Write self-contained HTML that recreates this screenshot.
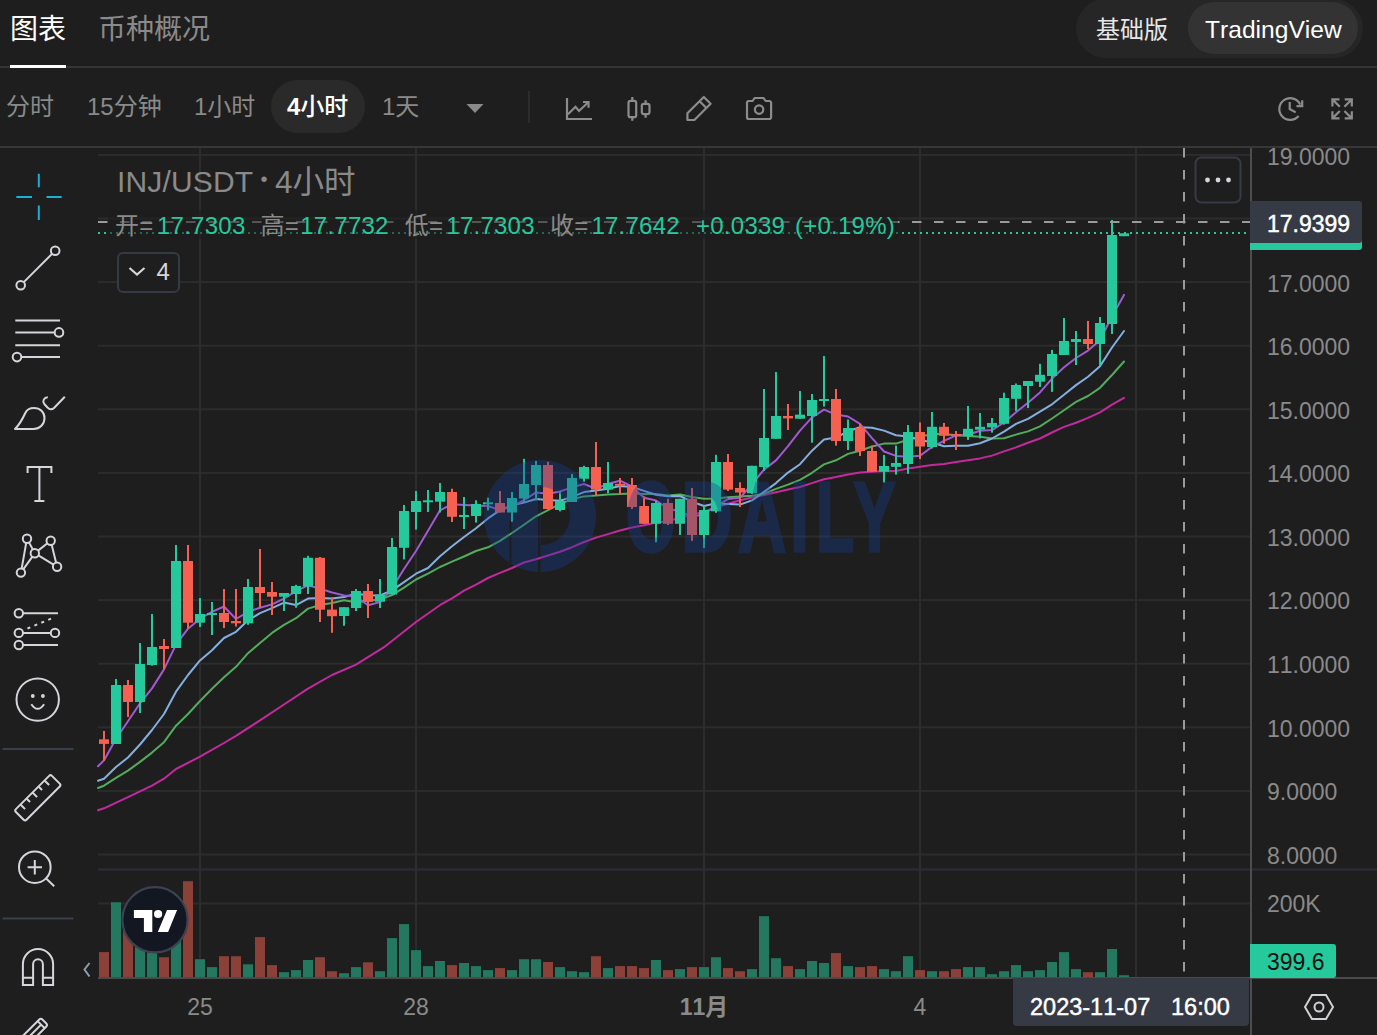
<!DOCTYPE html>
<html lang="zh-CN">
<head>
<meta charset="utf-8">
<title>INJ/USDT 图表</title>
<style>
*{box-sizing:border-box;margin:0;padding:0}
html,body{width:1377px;height:1035px;overflow:hidden;background:#1e1e1e}
body{position:relative;font-kerning:none;font-family:"Liberation Sans","Noto Sans CJK SC",sans-serif;color:#8a8a8a}
.abs{position:absolute;white-space:nowrap}
.tab{top:10px;font-size:28px;line-height:40px}
.tb{top:88px;font-size:24px;line-height:38px;color:#8a8a8a}
.pl{left:1267px;font-size:23px;line-height:28px;color:#8a8a8a;letter-spacing:0px}
.tl{top:993px;font-size:23px;line-height:28px;color:#8a8a8a;transform:translateX(-50%)}
#chart{position:absolute;left:0;top:0}
.md{-webkit-text-stroke:.45px #fff}
.g{color:#26c99c}.lg.g{color:#26c99c}.lg{top:209.5px;font-size:24px;line-height:32px;color:#8a8a8a;letter-spacing:.25px}
</style>
</head>
<body>
<!-- header tabs -->
<div class="abs tab" style="left:10px;color:#fff">图表</div>
<div class="abs tab" style="left:98px;color:#8a8a8a">币种概况</div>
<div class="abs" style="left:0;top:66px;width:1377px;height:2px;background:#353535"></div>
<div class="abs" style="left:10px;top:65px;width:56px;height:3px;background:#fff"></div>
<div class="abs" style="left:1076px;top:-1px;width:287px;height:59px;border-radius:30px;background:#262626"></div>
<div class="abs" style="left:1188px;top:2px;width:170px;height:52px;border-radius:26px;background:#333"></div>
<div class="abs" style="left:1096px;top:12px;font-size:24px;line-height:36px;color:#e6e6e6">基础版</div>
<div class="abs" style="left:1205px;top:11.5px;font-size:24.6px;line-height:36px;color:#fff">TradingView</div>

<!-- toolbar -->
<div class="abs tb" style="left:6px">分时</div>
<div class="abs tb" style="left:87px">15分钟</div>
<div class="abs tb" style="left:194px">1小时</div>
<div class="abs" style="left:271px;top:80px;width:94px;height:53px;border-radius:27px;background:#2a2a2a"></div>
<div class="abs tb" style="left:287px;color:#fff;font-weight:bold"><span style="font-weight:bold">4</span><span style="font-weight:500">小时</span></div>
<div class="abs tb" style="left:382px">1天</div>
<div class="abs" style="left:0;top:146px;width:1377px;height:2px;background:#373737"></div>

<!-- chart svg -->
<svg id="chart" width="1377" height="1035" viewBox="0 0 1377 1035">
<rect x="98" y="853.5" width="1152" height="2" fill="#2c2c2c"/>
<rect x="98" y="789.9" width="1152" height="2" fill="#2c2c2c"/>
<rect x="98" y="726.3" width="1152" height="2" fill="#2c2c2c"/>
<rect x="98" y="662.7" width="1152" height="2" fill="#2c2c2c"/>
<rect x="98" y="599.1" width="1152" height="2" fill="#2c2c2c"/>
<rect x="98" y="535.5" width="1152" height="2" fill="#2c2c2c"/>
<rect x="98" y="471.9" width="1152" height="2" fill="#2c2c2c"/>
<rect x="98" y="408.3" width="1152" height="2" fill="#2c2c2c"/>
<rect x="98" y="344.7" width="1152" height="2" fill="#2c2c2c"/>
<rect x="98" y="281.1" width="1152" height="2" fill="#2c2c2c"/>
<rect x="98" y="217.5" width="1152" height="2" fill="#2c2c2c"/>
<rect x="98" y="153.9" width="1152" height="2" fill="#2c2c2c"/>
<rect x="199" y="148" width="2" height="830" fill="#2c2c2c"/>
<rect x="415" y="148" width="2" height="830" fill="#2c2c2c"/>
<rect x="703" y="148" width="2" height="830" fill="#2c2c2c"/>
<rect x="919" y="148" width="2" height="830" fill="#2c2c2c"/>
<rect x="1135" y="148" width="2" height="830" fill="#2c2c2c"/>
<rect x="98" y="902.5" width="1152" height="2" fill="#2c2c2c"/>
<rect x="98" y="868.5" width="1279" height="2" fill="#2a2e39"/>
<rect x="99" y="952.1" width="10" height="24.9" fill="#8b4038"/>
<rect x="111" y="902.3" width="10" height="74.7" fill="#23785f"/>
<rect x="123" y="922.0" width="10" height="55.0" fill="#8b4038"/>
<rect x="135" y="927.0" width="10" height="50.0" fill="#23785f"/>
<rect x="147" y="932.0" width="10" height="45.0" fill="#23785f"/>
<rect x="159" y="957.2" width="10" height="19.8" fill="#8b4038"/>
<rect x="171" y="907.0" width="10" height="70.0" fill="#23785f"/>
<rect x="183" y="881.2" width="10" height="95.8" fill="#8b4038"/>
<rect x="195" y="959.2" width="10" height="17.8" fill="#23785f"/>
<rect x="207" y="967.1" width="10" height="9.9" fill="#23785f"/>
<rect x="219" y="956.2" width="10" height="20.8" fill="#8b4038"/>
<rect x="231" y="956.2" width="10" height="20.8" fill="#8b4038"/>
<rect x="243" y="964.3" width="10" height="12.7" fill="#23785f"/>
<rect x="255" y="937.1" width="10" height="39.9" fill="#8b4038"/>
<rect x="267" y="965.1" width="10" height="11.9" fill="#8b4038"/>
<rect x="279" y="972.2" width="10" height="4.8" fill="#23785f"/>
<rect x="291" y="970.1" width="10" height="6.9" fill="#23785f"/>
<rect x="303" y="960.0" width="10" height="17.0" fill="#23785f"/>
<rect x="315" y="957.2" width="10" height="19.8" fill="#8b4038"/>
<rect x="327" y="971.2" width="10" height="5.8" fill="#8b4038"/>
<rect x="339" y="973.2" width="10" height="3.8" fill="#23785f"/>
<rect x="351" y="967.1" width="10" height="9.9" fill="#23785f"/>
<rect x="363" y="962.3" width="10" height="14.7" fill="#8b4038"/>
<rect x="375" y="971.2" width="10" height="5.8" fill="#23785f"/>
<rect x="387" y="938.1" width="10" height="38.9" fill="#23785f"/>
<rect x="399" y="924.1" width="10" height="52.9" fill="#23785f"/>
<rect x="411" y="950.1" width="10" height="26.9" fill="#23785f"/>
<rect x="423" y="966.1" width="10" height="10.9" fill="#23785f"/>
<rect x="435" y="961.0" width="10" height="16.0" fill="#23785f"/>
<rect x="447" y="965.1" width="10" height="11.9" fill="#8b4038"/>
<rect x="459" y="963.0" width="10" height="14.0" fill="#23785f"/>
<rect x="471" y="966.1" width="10" height="10.9" fill="#23785f"/>
<rect x="483" y="970.1" width="10" height="6.9" fill="#23785f"/>
<rect x="495" y="968.1" width="10" height="8.9" fill="#8b4038"/>
<rect x="507" y="970.1" width="10" height="6.9" fill="#23785f"/>
<rect x="519" y="959.2" width="10" height="17.8" fill="#23785f"/>
<rect x="531" y="959.2" width="10" height="17.8" fill="#23785f"/>
<rect x="543" y="962.0" width="10" height="15.0" fill="#8b4038"/>
<rect x="555" y="967.1" width="10" height="9.9" fill="#23785f"/>
<rect x="567" y="971.2" width="10" height="5.8" fill="#23785f"/>
<rect x="579" y="972.2" width="10" height="4.8" fill="#23785f"/>
<rect x="591" y="956.2" width="10" height="20.8" fill="#8b4038"/>
<rect x="603" y="968.1" width="10" height="8.9" fill="#23785f"/>
<rect x="615" y="966.1" width="10" height="10.9" fill="#8b4038"/>
<rect x="627" y="966.1" width="10" height="10.9" fill="#8b4038"/>
<rect x="639" y="968.1" width="10" height="8.9" fill="#8b4038"/>
<rect x="651" y="960.0" width="10" height="17.0" fill="#23785f"/>
<rect x="663" y="970.1" width="10" height="6.9" fill="#8b4038"/>
<rect x="675" y="969.1" width="10" height="7.9" fill="#23785f"/>
<rect x="687" y="967.1" width="10" height="9.9" fill="#8b4038"/>
<rect x="699" y="967.1" width="10" height="9.9" fill="#23785f"/>
<rect x="711" y="957.2" width="10" height="19.8" fill="#23785f"/>
<rect x="723" y="968.1" width="10" height="8.9" fill="#8b4038"/>
<rect x="735" y="971.2" width="10" height="5.8" fill="#8b4038"/>
<rect x="747" y="969.1" width="10" height="7.9" fill="#23785f"/>
<rect x="759" y="916.2" width="10" height="60.8" fill="#23785f"/>
<rect x="771" y="958.2" width="10" height="18.8" fill="#23785f"/>
<rect x="783" y="966.1" width="10" height="10.9" fill="#8b4038"/>
<rect x="795" y="969.1" width="10" height="7.9" fill="#23785f"/>
<rect x="807" y="961.0" width="10" height="16.0" fill="#23785f"/>
<rect x="819" y="963.0" width="10" height="14.0" fill="#23785f"/>
<rect x="831" y="953.1" width="10" height="23.9" fill="#8b4038"/>
<rect x="843" y="966.1" width="10" height="10.9" fill="#23785f"/>
<rect x="855" y="967.1" width="10" height="9.9" fill="#8b4038"/>
<rect x="867" y="966.1" width="10" height="10.9" fill="#8b4038"/>
<rect x="879" y="969.1" width="10" height="7.9" fill="#23785f"/>
<rect x="891" y="971.2" width="10" height="5.8" fill="#23785f"/>
<rect x="903" y="956.2" width="10" height="20.8" fill="#23785f"/>
<rect x="915" y="970.1" width="10" height="6.9" fill="#8b4038"/>
<rect x="927" y="971.2" width="10" height="5.8" fill="#23785f"/>
<rect x="939" y="971.2" width="10" height="5.8" fill="#8b4038"/>
<rect x="951" y="969.1" width="10" height="7.9" fill="#8b4038"/>
<rect x="963" y="967.1" width="10" height="9.9" fill="#23785f"/>
<rect x="975" y="967.1" width="10" height="9.9" fill="#23785f"/>
<rect x="987" y="974.2" width="10" height="2.8" fill="#23785f"/>
<rect x="999" y="971.2" width="10" height="5.8" fill="#23785f"/>
<rect x="1011" y="965.1" width="10" height="11.9" fill="#23785f"/>
<rect x="1023" y="971.2" width="10" height="5.8" fill="#23785f"/>
<rect x="1035" y="970.1" width="10" height="6.9" fill="#23785f"/>
<rect x="1047" y="962.0" width="10" height="15.0" fill="#23785f"/>
<rect x="1059" y="952.1" width="10" height="24.9" fill="#23785f"/>
<rect x="1071" y="969.1" width="10" height="7.9" fill="#23785f"/>
<rect x="1083" y="972.2" width="10" height="4.8" fill="#8b4038"/>
<rect x="1095" y="972.2" width="10" height="4.8" fill="#23785f"/>
<rect x="1107" y="949.0" width="10" height="28.0" fill="#23785f"/>
<rect x="1119" y="975.2" width="10" height="1.8" fill="#23785f"/>
<polyline points="98.0,810.3 104.0,808.3 128.0,797.2 152.0,785.7 164.0,778.7 176.0,769.0 200.0,756.7 224.0,743.0 236.0,735.8 260.0,720.4 284.0,704.5 308.0,688.6 332.0,675.0 356.0,664.6 384.0,647.2 416.0,622.0 442.0,603.8 452.0,598.3 464.0,590.7 476.0,584.6 488.0,578.0 500.0,572.9 512.0,568.0 524.0,562.5 536.0,559.3 548.0,555.5 560.0,551.7 572.0,547.2 584.0,542.0 596.0,537.6 608.0,534.1 620.0,530.5 632.0,527.5 644.0,525.2 656.0,522.5 668.0,521.3 680.0,517.6 692.0,514.9 704.0,511.7 716.0,507.4 728.0,503.7 740.0,500.3 752.0,497.6 764.0,495.1 776.0,492.3 788.0,489.6 800.0,487.0 812.0,483.1 824.0,479.2 836.0,477.1 848.0,474.6 860.0,472.6 872.0,471.7 884.0,471.1 896.0,471.0 908.0,468.5 920.0,466.7 932.0,465.0 944.0,463.9 956.0,462.1 968.0,460.3 980.0,458.4 992.0,455.6 1004.0,451.4 1016.0,447.4 1028.0,442.7 1040.0,438.5 1052.0,432.5 1064.0,426.9 1076.0,422.8 1088.0,417.9 1100.0,412.3 1112.0,404.6 1124.0,397.8" fill="none" stroke="#c42a9e" stroke-width="2" stroke-linejoin="round" stroke-linecap="round"/>
<polyline points="98.0,788.0 104.0,785.7 116.0,777.8 128.0,770.6 140.0,761.9 152.0,752.6 164.0,742.2 176.0,725.7 188.0,714.0 200.0,701.0 212.0,688.8 224.0,677.2 236.0,666.8 248.0,653.2 260.0,643.0 272.0,632.9 284.0,624.8 296.0,618.2 308.0,608.6 320.0,605.0 332.0,603.0 344.0,600.2 356.0,602.2 368.0,600.8 380.0,599.5 392.0,595.1 404.0,587.7 416.0,579.5 428.0,573.7 440.0,567.0 452.0,561.7 464.0,556.5 476.0,551.0 488.0,547.3 500.0,540.8 512.0,533.0 524.0,524.7 536.0,516.3 548.0,510.2 560.0,503.9 572.0,499.3 584.0,496.4 596.0,495.6 608.0,494.5 620.0,494.1 632.0,493.4 644.0,494.0 656.0,493.9 668.0,495.4 680.0,494.5 692.0,496.9 704.0,498.7 716.0,498.5 728.0,497.2 740.0,496.6 752.0,495.8 764.0,493.8 776.0,488.9 788.0,484.6 800.0,479.9 812.0,472.8 824.0,464.4 836.0,460.3 848.0,453.9 860.0,450.7 872.0,446.5 884.0,443.6 896.0,443.6 908.0,439.8 920.0,436.7 932.0,434.1 944.0,434.0 956.0,435.3 968.0,436.0 980.0,436.8 992.0,438.4 1004.0,438.3 1016.0,434.6 1028.0,431.4 1040.0,426.3 1052.0,418.5 1064.0,410.2 1076.0,401.9 1088.0,396.0 1100.0,387.8 1112.0,375.0 1124.0,361.5" fill="none" stroke="#52ac5c" stroke-width="2" stroke-linejoin="round" stroke-linecap="round"/>
<polyline points="98.0,780.7 104.0,778.7 116.0,767.0 128.0,757.5 140.0,744.5 152.0,730.0 164.0,714.0 176.0,691.7 188.0,675.0 200.0,660.4 212.0,650.2 224.0,638.0 236.0,631.8 248.0,620.3 260.0,613.2 272.0,608.2 284.0,602.6 296.0,605.1 308.0,598.6 320.0,598.1 332.0,598.5 344.0,597.0 356.0,593.8 368.0,595.2 380.0,595.4 392.0,590.4 404.0,582.2 416.0,573.7 428.0,568.0 440.0,556.2 452.0,546.2 464.0,537.0 476.0,528.3 488.0,518.4 500.0,510.2 512.0,505.3 524.0,502.6 536.0,499.0 548.0,499.9 560.0,500.8 572.0,496.9 584.0,492.1 596.0,490.6 608.0,488.7 620.0,486.0 632.0,486.9 644.0,490.9 656.0,494.7 668.0,496.2 680.0,496.0 692.0,501.7 704.0,506.0 716.0,503.2 728.0,503.9 740.0,504.6 752.0,500.4 764.0,491.9 776.0,483.1 788.0,472.6 800.0,464.2 812.0,450.7 824.0,439.6 836.0,437.5 848.0,431.3 860.0,427.2 872.0,427.8 884.0,430.6 896.0,435.3 908.0,436.6 920.0,439.8 932.0,442.5 944.0,446.2 956.0,445.7 968.0,445.8 980.0,443.3 992.0,438.5 1004.0,431.7 1016.0,423.9 1028.0,418.8 1040.0,411.6 1052.0,404.3 1064.0,394.8 1076.0,385.1 1088.0,376.7 1100.0,366.3 1112.0,347.5 1124.0,331.0" fill="none" stroke="#85aee1" stroke-width="2" stroke-linejoin="round" stroke-linecap="round"/>
<polyline points="98.0,766.2 104.0,760.4 116.0,738.7 128.0,721.3 140.0,703.3 152.0,688.4 164.0,669.4 176.0,644.6 188.0,628.7 200.0,618.7 212.0,611.9 224.0,606.5 236.0,619.0 248.0,611.9 260.0,607.7 272.0,604.4 284.0,598.6 296.0,591.1 308.0,585.3 320.0,588.6 332.0,592.5 344.0,595.4 356.0,596.4 368.0,605.2 380.0,602.1 392.0,588.3 404.0,569.0 416.0,551.0 428.0,530.8 440.0,510.3 452.0,504.2 464.0,505.0 476.0,505.6 488.0,506.0 500.0,510.1 512.0,506.4 524.0,500.2 536.0,492.4 548.0,493.7 560.0,491.4 572.0,487.4 584.0,484.0 596.0,488.9 608.0,483.7 620.0,480.7 632.0,486.5 644.0,497.8 656.0,500.5 668.0,508.7 680.0,511.3 692.0,516.9 704.0,514.1 716.0,505.9 728.0,499.1 740.0,497.8 752.0,484.0 764.0,469.6 776.0,460.4 788.0,446.1 800.0,430.6 812.0,417.4 824.0,409.6 836.0,414.6 848.0,416.5 860.0,423.8 872.0,438.1 884.0,451.5 896.0,455.9 908.0,456.7 920.0,455.8 932.0,446.9 944.0,440.8 956.0,435.4 968.0,434.8 980.0,430.8 992.0,430.1 1004.0,422.5 1016.0,412.3 1028.0,402.8 1040.0,392.4 1052.0,378.6 1064.0,367.2 1076.0,358.0 1088.0,350.6 1100.0,340.2 1112.0,316.4 1124.0,294.9" fill="none" stroke="#a05ad2" stroke-width="2" stroke-linejoin="round" stroke-linecap="round"/>
<rect x="103" y="730.9" width="2" height="30.1" fill="#f66050"/>
<rect x="99" y="739.3" width="10" height="4.6" fill="#f66050"/>
<rect x="115" y="679.0" width="2" height="65.0" fill="#26c99c"/>
<rect x="111" y="685.0" width="10" height="59.0" fill="#26c99c"/>
<rect x="127" y="680.0" width="2" height="37.0" fill="#f66050"/>
<rect x="123" y="685.0" width="10" height="17.0" fill="#f66050"/>
<rect x="139" y="643.0" width="2" height="70.0" fill="#26c99c"/>
<rect x="135" y="664.0" width="10" height="38.0" fill="#26c99c"/>
<rect x="151" y="614.0" width="2" height="51.7" fill="#26c99c"/>
<rect x="147" y="647.0" width="10" height="18.0" fill="#26c99c"/>
<rect x="163" y="639.0" width="2" height="30.0" fill="#f66050"/>
<rect x="159" y="646.0" width="10" height="3.0" fill="#f66050"/>
<rect x="175" y="545.0" width="2" height="103.0" fill="#26c99c"/>
<rect x="171" y="561.0" width="10" height="87.0" fill="#26c99c"/>
<rect x="187" y="545.0" width="2" height="83.5" fill="#f66050"/>
<rect x="183" y="561.0" width="10" height="61.7" fill="#f66050"/>
<rect x="199" y="598.0" width="2" height="29.0" fill="#26c99c"/>
<rect x="195" y="614.0" width="10" height="8.7" fill="#26c99c"/>
<rect x="211" y="602.0" width="2" height="33.0" fill="#26c99c"/>
<rect x="207" y="613.0" width="10" height="2.0" fill="#26c99c"/>
<rect x="223" y="589.0" width="2" height="39.0" fill="#f66050"/>
<rect x="219" y="613.0" width="10" height="9.0" fill="#f66050"/>
<rect x="235" y="589.0" width="2" height="37.5" fill="#f66050"/>
<rect x="231" y="621.0" width="10" height="2.3" fill="#f66050"/>
<rect x="247" y="579.0" width="2" height="45.8" fill="#26c99c"/>
<rect x="243" y="587.0" width="10" height="36.3" fill="#26c99c"/>
<rect x="259" y="549.0" width="2" height="58.7" fill="#f66050"/>
<rect x="255" y="587.0" width="10" height="6.0" fill="#f66050"/>
<rect x="271" y="582.0" width="2" height="33.0" fill="#f66050"/>
<rect x="267" y="592.0" width="10" height="4.7" fill="#f66050"/>
<rect x="283" y="593.0" width="2" height="18.0" fill="#26c99c"/>
<rect x="279" y="593.0" width="10" height="3.7" fill="#26c99c"/>
<rect x="295" y="584.8" width="2" height="22.9" fill="#26c99c"/>
<rect x="291" y="586.0" width="10" height="8.0" fill="#26c99c"/>
<rect x="307" y="555.8" width="2" height="38.2" fill="#26c99c"/>
<rect x="303" y="557.8" width="10" height="28.7" fill="#26c99c"/>
<rect x="319" y="557.0" width="2" height="65.0" fill="#f66050"/>
<rect x="315" y="557.8" width="10" height="51.9" fill="#f66050"/>
<rect x="331" y="597.4" width="2" height="35.4" fill="#f66050"/>
<rect x="327" y="609.6" width="10" height="6.6" fill="#f66050"/>
<rect x="343" y="607.2" width="2" height="18.6" fill="#26c99c"/>
<rect x="339" y="607.2" width="10" height="8.8" fill="#26c99c"/>
<rect x="355" y="589.0" width="2" height="22.0" fill="#26c99c"/>
<rect x="351" y="591.0" width="10" height="17.0" fill="#26c99c"/>
<rect x="367" y="584.0" width="2" height="34.0" fill="#f66050"/>
<rect x="363" y="591.0" width="10" height="10.7" fill="#f66050"/>
<rect x="379" y="579.0" width="2" height="29.0" fill="#26c99c"/>
<rect x="375" y="594.5" width="10" height="7.2" fill="#26c99c"/>
<rect x="391" y="538.0" width="2" height="56.5" fill="#26c99c"/>
<rect x="387" y="547.0" width="10" height="47.5" fill="#26c99c"/>
<rect x="403" y="505.0" width="2" height="54.4" fill="#26c99c"/>
<rect x="399" y="511.0" width="10" height="36.8" fill="#26c99c"/>
<rect x="415" y="491.0" width="2" height="38.6" fill="#26c99c"/>
<rect x="411" y="501.0" width="10" height="11.0" fill="#26c99c"/>
<rect x="427" y="490.0" width="2" height="22.0" fill="#26c99c"/>
<rect x="423" y="500.3" width="10" height="2.0" fill="#26c99c"/>
<rect x="439" y="483.0" width="2" height="29.5" fill="#26c99c"/>
<rect x="435" y="492.0" width="10" height="9.7" fill="#26c99c"/>
<rect x="451" y="488.7" width="2" height="33.3" fill="#f66050"/>
<rect x="447" y="492.0" width="10" height="24.8" fill="#f66050"/>
<rect x="463" y="497.0" width="2" height="32.0" fill="#26c99c"/>
<rect x="459" y="515.0" width="10" height="2.0" fill="#26c99c"/>
<rect x="475" y="500.3" width="2" height="22.3" fill="#26c99c"/>
<rect x="471" y="504.0" width="10" height="12.0" fill="#26c99c"/>
<rect x="487" y="497.7" width="2" height="12.7" fill="#26c99c"/>
<rect x="483" y="502.3" width="10" height="2.0" fill="#26c99c"/>
<rect x="499" y="491.0" width="2" height="21.5" fill="#f66050"/>
<rect x="495" y="503.0" width="10" height="9.5" fill="#f66050"/>
<rect x="511" y="492.0" width="2" height="29.7" fill="#26c99c"/>
<rect x="507" y="498.0" width="10" height="14.5" fill="#26c99c"/>
<rect x="523" y="458.8" width="2" height="43.5" fill="#26c99c"/>
<rect x="519" y="484.0" width="10" height="14.5" fill="#26c99c"/>
<rect x="535" y="460.9" width="2" height="39.4" fill="#26c99c"/>
<rect x="531" y="465.0" width="10" height="20.0" fill="#26c99c"/>
<rect x="547" y="461.7" width="2" height="47.9" fill="#f66050"/>
<rect x="543" y="465.0" width="10" height="44.0" fill="#f66050"/>
<rect x="559" y="491.0" width="2" height="20.3" fill="#26c99c"/>
<rect x="555" y="501.0" width="10" height="9.0" fill="#26c99c"/>
<rect x="571" y="474.0" width="2" height="28.0" fill="#26c99c"/>
<rect x="567" y="478.0" width="10" height="24.0" fill="#26c99c"/>
<rect x="583" y="465.8" width="2" height="15.9" fill="#26c99c"/>
<rect x="579" y="467.0" width="10" height="11.8" fill="#26c99c"/>
<rect x="595" y="442.0" width="2" height="53.4" fill="#f66050"/>
<rect x="591" y="467.0" width="10" height="22.6" fill="#f66050"/>
<rect x="607" y="462.0" width="2" height="31.3" fill="#26c99c"/>
<rect x="603" y="483.0" width="10" height="6.6" fill="#26c99c"/>
<rect x="619" y="478.0" width="2" height="16.8" fill="#f66050"/>
<rect x="615" y="483.8" width="10" height="2.0" fill="#f66050"/>
<rect x="631" y="478.0" width="2" height="31.0" fill="#f66050"/>
<rect x="627" y="485.0" width="10" height="22.0" fill="#f66050"/>
<rect x="643" y="496.0" width="2" height="27.8" fill="#f66050"/>
<rect x="639" y="506.0" width="10" height="17.8" fill="#f66050"/>
<rect x="655" y="501.0" width="2" height="41.3" fill="#26c99c"/>
<rect x="651" y="503.0" width="10" height="20.8" fill="#26c99c"/>
<rect x="667" y="498.8" width="2" height="26.2" fill="#f66050"/>
<rect x="663" y="503.0" width="10" height="20.8" fill="#f66050"/>
<rect x="679" y="498.8" width="2" height="36.2" fill="#26c99c"/>
<rect x="675" y="498.8" width="10" height="25.0" fill="#26c99c"/>
<rect x="691" y="488.0" width="2" height="52.9" fill="#f66050"/>
<rect x="687" y="498.8" width="10" height="36.2" fill="#f66050"/>
<rect x="703" y="505.5" width="2" height="42.5" fill="#26c99c"/>
<rect x="699" y="510.0" width="10" height="25.0" fill="#26c99c"/>
<rect x="715" y="454.8" width="2" height="58.0" fill="#26c99c"/>
<rect x="711" y="462.0" width="10" height="49.3" fill="#26c99c"/>
<rect x="727" y="454.0" width="2" height="37.0" fill="#f66050"/>
<rect x="723" y="462.0" width="10" height="27.6" fill="#f66050"/>
<rect x="739" y="482.3" width="2" height="24.7" fill="#f66050"/>
<rect x="735" y="488.0" width="10" height="4.5" fill="#f66050"/>
<rect x="751" y="465.8" width="2" height="28.2" fill="#26c99c"/>
<rect x="747" y="465.8" width="10" height="27.5" fill="#26c99c"/>
<rect x="763" y="389.0" width="2" height="81.7" fill="#26c99c"/>
<rect x="759" y="438.0" width="10" height="29.0" fill="#26c99c"/>
<rect x="775" y="372.0" width="2" height="66.8" fill="#26c99c"/>
<rect x="771" y="416.0" width="10" height="22.8" fill="#26c99c"/>
<rect x="787" y="404.0" width="2" height="26.0" fill="#f66050"/>
<rect x="783" y="416.0" width="10" height="2.4" fill="#f66050"/>
<rect x="799" y="391.0" width="2" height="27.7" fill="#26c99c"/>
<rect x="795" y="414.6" width="10" height="4.1" fill="#26c99c"/>
<rect x="811" y="394.0" width="2" height="48.7" fill="#26c99c"/>
<rect x="807" y="400.0" width="10" height="16.0" fill="#26c99c"/>
<rect x="823" y="356.0" width="2" height="50.5" fill="#26c99c"/>
<rect x="819" y="399.0" width="10" height="2.0" fill="#26c99c"/>
<rect x="835" y="389.0" width="2" height="56.6" fill="#f66050"/>
<rect x="831" y="399.0" width="10" height="42.0" fill="#f66050"/>
<rect x="847" y="419.5" width="2" height="30.5" fill="#26c99c"/>
<rect x="843" y="428.0" width="10" height="13.0" fill="#26c99c"/>
<rect x="859" y="424.0" width="2" height="32.0" fill="#f66050"/>
<rect x="855" y="428.0" width="10" height="23.0" fill="#f66050"/>
<rect x="871" y="445.6" width="2" height="26.1" fill="#f66050"/>
<rect x="867" y="451.0" width="10" height="20.7" fill="#f66050"/>
<rect x="883" y="455.0" width="2" height="27.5" fill="#26c99c"/>
<rect x="879" y="466.0" width="10" height="5.7" fill="#26c99c"/>
<rect x="895" y="445.6" width="2" height="29.0" fill="#26c99c"/>
<rect x="891" y="463.0" width="10" height="3.8" fill="#26c99c"/>
<rect x="907" y="425.0" width="2" height="48.8" fill="#26c99c"/>
<rect x="903" y="432.0" width="10" height="32.0" fill="#26c99c"/>
<rect x="919" y="422.5" width="2" height="36.5" fill="#f66050"/>
<rect x="915" y="432.0" width="10" height="14.5" fill="#f66050"/>
<rect x="931" y="412.0" width="2" height="36.5" fill="#26c99c"/>
<rect x="927" y="426.8" width="10" height="20.2" fill="#26c99c"/>
<rect x="943" y="423.0" width="2" height="20.6" fill="#f66050"/>
<rect x="939" y="426.8" width="10" height="9.0" fill="#f66050"/>
<rect x="955" y="431.0" width="2" height="19.0" fill="#f66050"/>
<rect x="951" y="434.0" width="10" height="2.0" fill="#f66050"/>
<rect x="967" y="406.0" width="2" height="33.9" fill="#26c99c"/>
<rect x="963" y="428.8" width="10" height="7.2" fill="#26c99c"/>
<rect x="979" y="413.0" width="2" height="25.4" fill="#26c99c"/>
<rect x="975" y="426.8" width="10" height="2.9" fill="#26c99c"/>
<rect x="991" y="418.0" width="2" height="14.6" fill="#26c99c"/>
<rect x="987" y="423.0" width="10" height="4.4" fill="#26c99c"/>
<rect x="1003" y="392.7" width="2" height="31.9" fill="#26c99c"/>
<rect x="999" y="398.0" width="10" height="25.8" fill="#26c99c"/>
<rect x="1015" y="383.5" width="2" height="27.5" fill="#26c99c"/>
<rect x="1011" y="385.0" width="10" height="13.8" fill="#26c99c"/>
<rect x="1027" y="381.0" width="2" height="27.0" fill="#26c99c"/>
<rect x="1023" y="381.0" width="10" height="5.0" fill="#26c99c"/>
<rect x="1039" y="363.8" width="2" height="23.2" fill="#26c99c"/>
<rect x="1035" y="374.8" width="10" height="6.9" fill="#26c99c"/>
<rect x="1051" y="349.9" width="2" height="42.0" fill="#26c99c"/>
<rect x="1047" y="354.0" width="10" height="22.0" fill="#26c99c"/>
<rect x="1063" y="318.0" width="2" height="37.0" fill="#26c99c"/>
<rect x="1059" y="341.0" width="10" height="14.0" fill="#26c99c"/>
<rect x="1075" y="331.0" width="2" height="34.0" fill="#26c99c"/>
<rect x="1071" y="339.0" width="10" height="3.0" fill="#26c99c"/>
<rect x="1087" y="320.9" width="2" height="28.1" fill="#f66050"/>
<rect x="1083" y="339.0" width="10" height="5.0" fill="#f66050"/>
<rect x="1099" y="317.0" width="2" height="48.8" fill="#26c99c"/>
<rect x="1095" y="323.0" width="10" height="21.0" fill="#26c99c"/>
<rect x="1111" y="220.0" width="2" height="114.0" fill="#26c99c"/>
<rect x="1107" y="235.0" width="10" height="89.0" fill="#26c99c"/>
<rect x="1123" y="233.3" width="2" height="2.9" fill="#26c99c"/>
<rect x="1119" y="233.3" width="10" height="2.9" fill="#26c99c"/>
<!-- price dotted line + crosshair -->
<line x1="98" y1="233" x2="1250" y2="233" stroke="#26c99c" stroke-width="2" stroke-dasharray="2 4"/>
<line x1="98" y1="222" x2="1250" y2="222" stroke="#9a9a9a" stroke-width="2" stroke-dasharray="9.5 12.5"/>
<line x1="1184" y1="148" x2="1184" y2="978" stroke="#9a9a9a" stroke-width="2" stroke-dasharray="9.5 12.5"/>
<!-- axes borders -->
<rect x="1250" y="148" width="2" height="887" fill="#4d4d4d"/>
<rect x="98" y="977" width="1279" height="2" fill="#4a4a4a"/>
<!-- watermark -->
<g opacity="0.35" fill="#154096">
<path fill-rule="evenodd" d="M540 460 A56 56 0 1 0 540 572 A56 56 0 1 0 540 460 Z M541 487 A29 29 0 0 1 541 545 Z M509.5 520 h2 v44 h-2 Z M538 498 h2.5 v74 h-2.5 Z"/>
<g font-family="'Liberation Sans',sans-serif" font-weight="bold" font-size="99" stroke="#154096" stroke-width="3.5" stroke-linejoin="miter">
<text x="626" y="550.5" textLength="50" lengthAdjust="spacingAndGlyphs">O</text>
<text x="681.5" y="550.5" textLength="51" lengthAdjust="spacingAndGlyphs">D</text>
<text x="738" y="550.5" textLength="48" lengthAdjust="spacingAndGlyphs">A</text>
<text x="790.5" y="550.5" textLength="18" lengthAdjust="spacingAndGlyphs">I</text>
<text x="816" y="550.5" textLength="38" lengthAdjust="spacingAndGlyphs">L</text>
<text x="853.5" y="550.5" textLength="42" lengthAdjust="spacingAndGlyphs">Y</text>
</g>
</g>
<!-- TV logo -->
<circle cx="155" cy="919.8" r="32.6" fill="#131722" stroke="#3d4150" stroke-width="2.2"/>
<path fill="#fff" d="M133.9 910 H152.3 V932.1 H143.9 V917.9 H133.9 Z M167 910 H177.1 L168.1 932.1 H157.8 Z"/>
<circle cx="158.1" cy="914" r="4.1" fill="#fff"/>
<!-- more button -->
<rect x="1195.5" y="157.5" width="45" height="45" rx="6" fill="#1e1e1e" stroke="#363a47" stroke-width="2"/>
<circle cx="1207.5" cy="180" r="2.4" fill="#d6d6dc"/><circle cx="1218" cy="180" r="2.4" fill="#d6d6dc"/><circle cx="1228.5" cy="180" r="2.4" fill="#d6d6dc"/>
<!-- settings hex -->
<g fill="none" stroke="#d0d0d6" stroke-width="2">
<path d="M1305 1007 L1312 995 H1326 L1333 1007 L1326 1019 H1312 Z"/>
<circle cx="1319" cy="1007" r="4.5"/>
</g>
<!-- scroll-left arrow -->
<path d="M89.5 963 L84.5 969.5 L89.5 976.5" fill="none" stroke="#8aa0b0" stroke-width="2"/>
<!-- top toolbar icons -->
<path d="M466.5 104 H483.5 L475 113 Z" fill="#8a8a8a"/>
<rect x="528" y="91" width="2" height="32" fill="#2c2c2c"/>
<g fill="none" stroke="#8c8c8c" stroke-width="2.2" stroke-linejoin="miter">
<path d="M567 98 V119 H592"/>
<path d="M568 114.2 L575.5 106.8 L579 111 L588.3 102.2"/>
<path d="M583 102 H588.5 V107.7"/>
<rect x="628.5" y="100.8" width="7.7" height="16.4" rx="2"/>
<path d="M632.3 97 V100.3 M632.3 117.7 V120.8"/>
<rect x="641.8" y="103.8" width="7.7" height="10.3" rx="2"/>
<path d="M645.6 100.3 V103.3 M645.6 114.6 V117.8"/>
<path stroke-linejoin="round" d="M703.8 97 L710.6 103.8 L694.4 120 H687.4 V113.2 Z M699.6 101.2 L706.4 108"/>
<path stroke-linejoin="round" d="M748.8 101 H752.6 L754.6 98 H763.6 L765.6 101 H769.3 A1.8 1.8 0 0 1 771.1 102.8 V117.2 A1.8 1.8 0 0 1 769.3 119 H748.8 A1.8 1.8 0 0 1 747 117.2 V102.8 A1.8 1.8 0 0 1 748.8 101 Z"/>
<circle cx="759.1" cy="109.6" r="4.2"/>
<!-- clock refresh -->
<path d="M1300.2 104.6 A10.9 10.9 0 1 0 1298.6 116"/>
<path d="M1296.5 106.2 H1302.2 V100.3"/>
<path d="M1289.7 102 V109 L1295.7 112.4"/>
<!-- fullscreen -->
<path d="M1339.5 99.4 H1332.4 V106.5 M1332.4 99.4 L1339.8 106.8"/>
<path d="M1344.7 99.4 H1351.8 V106.5 M1351.8 99.4 L1344.4 106.8"/>
<path d="M1339.5 118.4 H1332.4 V111.3 M1332.4 118.4 L1339.8 111"/>
<path d="M1344.7 118.4 H1351.8 V111.3 M1351.8 118.4 L1344.4 111"/>
</g>
<!-- legend chevron -->
<path d="M131 268 L137.5 274 L144 268" fill="none" stroke="#d6d6d6" stroke-width="2.2"/>
<!-- left toolbar -->
<g fill="none" stroke="#1ab0d8" stroke-width="2">
<path d="M38.8 173.8 V187.2 M38.8 205.5 V220 M16.3 197 H32 M46.5 197 H61.7"/>
</g>
<g fill="none" stroke="#d5d6dc" stroke-width="2" stroke-linecap="butt">
<!-- trend line -->
<circle cx="55.2" cy="250.7" r="4.3"/><circle cx="20.7" cy="285.2" r="4.3"/>
<path d="M23.8 282.1 L52.1 253.8"/>
<!-- fib lines -->
<path d="M15.3 320.5 H60 M15.3 332.4 H54.5 M15.3 345.2 H60 M21.5 357.1 H60"/>
<circle cx="59" cy="332.4" r="4.3"/><circle cx="17" cy="357.1" r="4.3"/>
<!-- brush -->
<path stroke-linejoin="round" d="M15 429 C 20 424, 23 418, 25.3 413 C 27 409, 30 408, 34 408 C 40 408, 44.5 412, 44.5 418 C 44.5 424, 40 429, 33.5 429 Z"/>
<path d="M47.8 397.3 C 44 397.5, 42 401, 44.3 404 L 47.7 407.7 C 49.5 409.8, 52 409.8, 54 408 L 64.8 396.8"/>
<!-- text T -->
<path d="M27.6 473 V467 H51.4 V473 M39.4 467 V501 M34.4 501 H44.4"/>
<!-- pattern -->
<circle cx="27" cy="538.7" r="4.2"/><circle cx="50.7" cy="540.7" r="4.2"/><circle cx="34.8" cy="553.2" r="4.2"/><circle cx="20.9" cy="572.6" r="4.2"/><circle cx="57.1" cy="566.8" r="4.2"/>
<path d="M26.2 542.8 L21.7 568.4 M29 542.4 L32.8 549.5 M23.4 569.2 L32.4 556.7 M38.1 550.6 L47.4 543.3 M51.7 544.8 L56.1 562.7 M38.4 555.4 L53.5 564.6"/>
<!-- forecast -->
<circle cx="18.8" cy="613.2" r="4.2"/><circle cx="18.8" cy="632.9" r="4.2"/><circle cx="55" cy="632.9" r="4.2"/><circle cx="18.8" cy="645" r="4.2"/>
<path d="M23 613.2 H58 M23 632.9 H50.8 M23 645 H58"/>
<path d="M27.5 628.5 L55 617" stroke-dasharray="3 4.5"/>
<!-- smiley -->
<circle cx="37.7" cy="699.6" r="21.2"/>
<path d="M31.3 704.2 Q37.7 713.5 44.1 704.2"/>
<!-- ruler -->
<g transform="translate(37.8 797.8) rotate(-45)">
<rect x="-25.5" y="-7.5" width="51" height="15" rx="2"/>
<path d="M-17 -7.5 V-1 M-8.5 -7.5 V-2.5 M0 -7.5 V-1 M8.5 -7.5 V-2.5 M17 -7.5 V-1"/>
</g>
<!-- zoom -->
<circle cx="34.8" cy="867.2" r="15.8"/>
<path d="M34.8 860 V874.4 M27.6 867.2 H42 M46.4 878.8 L54.2 886.2"/>
<!-- magnet -->
<path d="M22.9 985 V964.2 A15.1 15.1 0 0 1 53.1 964.2 V985 H42.9 V964.2 A4.9 4.9 0 0 0 33.1 964.2 V985 Z M22.9 977.8 H33.1 M42.9 977.8 H53.1"/>
<!-- pencil partial -->
<g transform="translate(30.2 1035.6) rotate(-45)">
<rect x="-24" y="-5" width="44" height="10" rx="2.5"/>
<path d="M15.5 -5 V5 M15.5 0 H-24"/>
</g>
</g>
<circle cx="32.8" cy="696" r="1.9" fill="#d5d6dc"/><circle cx="42.9" cy="696" r="1.9" fill="#d5d6dc"/>
<rect x="2.5" y="748" width="71" height="2" fill="#3a3f4d"/>
<rect x="2.5" y="917.5" width="71" height="2" fill="#3a3f4d"/>

</svg>

<!-- price labels -->
<div class="abs pl" style="top:142.6px">19.0000</div>
<div class="abs pl" style="top:269.7px">17.0000</div>
<div class="abs pl" style="top:333.2px">16.0000</div>
<div class="abs pl" style="top:396.8px">15.0000</div>
<div class="abs pl" style="top:460.4px">14.0000</div>
<div class="abs pl" style="top:523.9px">13.0000</div>
<div class="abs pl" style="top:587.4px">12.0000</div>
<div class="abs pl" style="top:651.0px">11.0000</div>
<div class="abs pl" style="top:714.5px">10.0000</div>
<div class="abs pl" style="top:778.1px">9.0000</div>
<div class="abs pl" style="top:841.6px">8.0000</div>
<div class="abs pl" style="top:890.3px">200K</div>

<!-- time labels -->
<div class="abs tl" style="left:200px">25</div>
<div class="abs tl" style="left:416px">28</div>
<div class="abs tl" style="left:704px;font-weight:bold">11月</div>
<div class="abs tl" style="left:920px">4</div>

<!-- legend -->
<div class="abs" style="left:117px;top:162px;font-size:30px;line-height:40px;color:#8a8a8a;letter-spacing:.15px">INJ/USDT</div>
<div class="abs" style="left:260.5px;top:164px;font-size:20px;line-height:30px;color:#8a8a8a">•</div>
<div class="abs" style="left:275px;top:162px;font-size:31.5px;line-height:40px;color:#8a8a8a">4小时</div>
<div class="abs" style="left:108px;top:210px;width:790px;height:29px;background:rgba(30,30,30,.55)"></div>
<div class="abs lg" style="left:115px">开=</div><div class="abs lg g" style="left:157px">17.7303</div>
<div class="abs lg" style="left:260.4px">高=</div><div class="abs lg g" style="left:300.2px">17.7732</div>
<div class="abs lg" style="left:404.8px">低=</div><div class="abs lg g" style="left:446.3px">17.7303</div>
<div class="abs lg" style="left:549.9px">收=</div><div class="abs lg g" style="left:591.4px">17.7642</div>
<div class="abs lg g" style="left:696px">+0.0339</div><div class="abs lg g" style="left:795px">(+0.19%)</div>
<div class="abs" style="left:117px;top:252px;width:63px;height:41px;border:2px solid #363a47;border-radius:6px;background:#1e1e1e"></div>
<svg class="abs" style="left:117px;top:252px" width="63" height="41" viewBox="117 252 63 41"><path d="M129.5 268 L137 274.5 L144.5 268" fill="none" stroke="#d6d6d6" stroke-width="2.2"/></svg>
<div class="abs" style="left:156.5px;top:256px;font-size:24px;line-height:32px;color:#d6d6d6">4</div>

<!-- value labels -->
<div class="abs" style="left:1250px;top:217px;width:112px;height:33px;background:#26c99c;border-radius:0 3px 3px 0"></div>
<div class="abs" style="left:1250px;top:201px;width:112px;height:42px;background:#363a45;border-radius:0 3px 3px 0"></div>
<div class="abs md" style="left:1267px;top:208.5px;font-size:23px;line-height:30px;color:#fff">17.9399</div>
<div class="abs" style="left:1250px;top:944px;width:86px;height:34px;background:#26c99c;border-radius:0 3px 3px 0"></div>
<div class="abs" style="left:1267px;top:947px;font-size:23px;line-height:30px;color:#111">399.6</div>
<div class="abs" style="left:1013px;top:978px;width:236px;height:48px;background:#363a45;border-radius:0 0 4px 4px"></div>
<div class="abs md" style="left:1030px;top:991.5px;font-size:23.5px;line-height:30px;color:#fff">2023-11-07</div>
<div class="abs md" style="left:1171px;top:991.5px;font-size:23.5px;line-height:30px;color:#fff">16:00</div>
</body>
</html>
